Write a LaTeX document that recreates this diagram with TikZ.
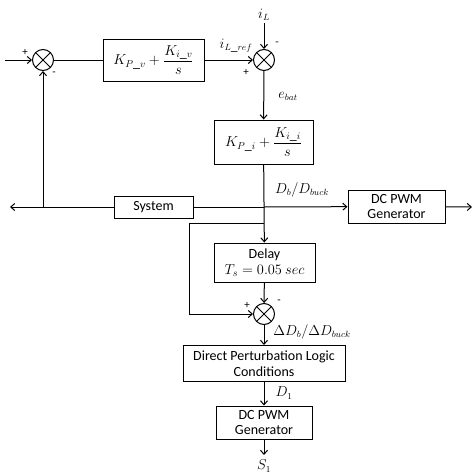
\documentclass[tikz,border=0pt]{standalone}
\usepackage{fontspec}
\setmainfont{Carlito}
\usetikzlibrary{arrows.meta}
\begin{document}
\begin{tikzpicture}[x=1pt,y=-1pt,
    blk/.style={draw,rectangle,line width=1pt,inner sep=0pt,align=center,
        font=\fontsize{14}{15.5}\selectfont},
    sumnode/.style={draw,circle,line width=1pt,minimum size=21pt,inner sep=0pt,
        path picture={
            \draw[line width=1pt] (path picture bounding box.north west) -- (path picture bounding box.south east);
            \draw[line width=1pt] (path picture bounding box.south west) -- (path picture bounding box.north east);}},
    sig/.style={line width=1pt},
    arr/.style={sig,-{Straight Barb[length=4pt,width=7pt]}},
    sgn/.style={font=\fontsize{11}{12}\selectfont},
    lbl/.style={font=\fontsize{13.5}{15}\selectfont}]
    \useasboundingbox (0,0) rectangle (474,474);

    % summing junctions
    \node[sumnode] (S1) at (43,60) {};
    \node[sumnode] (S2) at (264,60) {};
    \node[sumnode] (S3) at (264,314) {};

    % blocks
    \node[blk,minimum width=101pt,minimum height=42pt] (PIv) at (153.5,60)
        {$\displaystyle K_{P\_v}+\frac{K_{i\_v}}{s}$};
    \node[blk,minimum width=99pt,minimum height=44pt] (PIi) at (263.5,142)
        {$\displaystyle K_{P\_i}+\frac{K_{i\_i}}{s}$};
    \node[blk,minimum width=79pt,minimum height=22pt] (Sys) at (153.5,207) {System};
    \node[blk,minimum width=97pt,minimum height=33pt] (PWMa) at (396.5,206.5) {DC PWM\\Generator};
    \node[blk,minimum width=101pt,minimum height=39pt] (Dly) at (264.5,262.5) {Delay\\$T_s=0.05\ sec$};
    \node[blk,minimum width=162pt,minimum height=36pt] (DPL) at (264,363.5) {Direct Perturbation Logic\\Conditions};
    \node[blk,minimum width=96pt,minimum height=33pt] (PWMb) at (264,422.5) {DC PWM\\Generator};

    % free ends and bends
    \coordinate (in) at (5,60);
    \coordinate (iL) at (264,23);
    \coordinate (J1) at (264,207);
    \coordinate (J2) at (264,223);
    \coordinate (fb) at (43,207);
    \coordinate (outL) at (10,207);
    \coordinate (outR) at (472,207);
    \coordinate (C1) at (189,223);
    \coordinate (C2) at (189,314);
    \coordinate (out) at (264,455);

    % connectors
    \draw[arr] (in) -- (S1);
    \draw[sig] (S1) -- (PIv);
    \draw[arr] (PIv) -- (S2);
    \draw[arr] (iL) -- (S2);
    \draw[arr] (S2) -- (PIi);
    \draw[arr] (PIi) -- (Dly);
    \draw[arr] (J1) -- (PWMa);
    \draw[arr] (PWMa) -- (outR);
    \draw[sig] (J1) -- (Sys);
    \draw[arr] (Sys) -- (outL);
    \draw[arr] (fb) -- (S1);
    \draw[arr] (J2) -- (C1) -- (C2) -- (S3);
    \draw[arr] (Dly) -- (S3);
    \draw[arr] (S3) -- (DPL);
    \draw[arr] (DPL) -- (PWMb);
    \draw[arr] (PWMb) -- (out);

    % signs
    \node[sgn] (p1) at (25,52) {+};
    \node[sgn] (m1) at (54,74) {-};
    \node[sgn] (m2) at (277,44) {-};
    \node[sgn] (p2) at (246,72) {+};
    \node[sgn] (p3) at (247,305) {+};
    \node[sgn] (m3) at (279,302) {-};

    % signal labels
    \node[lbl] (lref) at (236,46) {$i_{L\_ref}$};
    \node[lbl] (liL) at (264,15) {$i_L$};
    \node[lbl] (lebat) at (288,96) {$e_{bat}$};
    \node[lbl] (lD) at (302,190) {$D_b/D_{buck}$};
    \node[lbl] (ldD) at (312,332) {$\Delta D_b/\Delta D_{buck}$};
    \node[lbl] (lD1) at (284,393) {$D_1$};
    \node[lbl] (lS1) at (264,466) {$S_1$};
\end{tikzpicture}
\end{document}
